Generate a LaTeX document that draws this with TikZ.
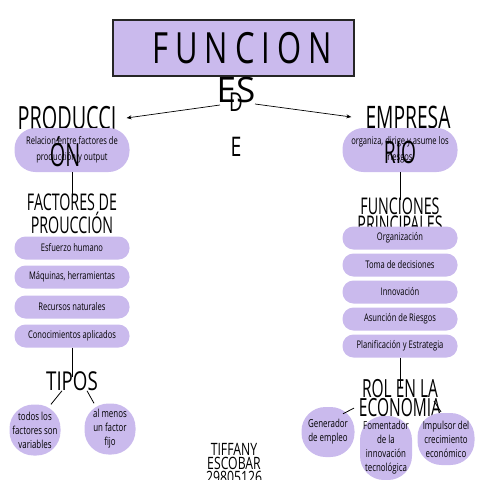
\documentclass[tikz,border=0pt]{standalone}
\usepackage{fontspec}
\setmainfont{Open Sans}[FakeStretch=0.72]
\newfontfamily\headfont{Open Sans}[FakeStretch=0.62]
\newfontfamily\widefont{Open Sans}
\usetikzlibrary{arrows.meta}
\definecolor{lila}{RGB}{202,186,237}
\tikzset{
  titlebox/.style={draw=black!85, line width=1.6pt, fill=lila, minimum width=241pt, minimum height=56pt, inner sep=0pt},
  bigpill/.style={fill=lila, rounded corners=21pt, minimum width=115pt, minimum height=44pt, align=center, inner sep=1pt, font=\fontsize{10.5}{16}\selectfont},
  pill/.style={fill=lila, rounded corners=11pt, minimum width=115pt, minimum height=23pt, inner sep=1pt, font=\fontsize{10.5}{12}\selectfont},
  bubble/.style={fill=lila, rounded corners=24pt, align=center, inner sep=1pt, font=\fontsize{11}{14}\selectfont},
  head/.style={align=center, inner sep=0pt},
  link/.style={line width=0.8pt},
  arrow/.style={-{Stealth[length=5pt, width=4pt]}, line width=0.7pt},
  every node/.style={text=black}
}

\begin{document}
\begin{tikzpicture}[x=1pt, y=-1pt]
    \useasboundingbox (0,0) rectangle (480,480);

    % titulo
    \node[titlebox] (title) at (233.5,48) {};
    \node[head, font=\fontsize{43}{43}\selectfont\addfontfeature{LetterSpace=16}] (tfun) at (242,48) {FUNCION};
    \node[head, font=\widefont\fontsize{35}{35}\selectfont] (tes) at (236,90) {ES};
    \node[head, font=\fontsize{26}{26}\selectfont] (td) at (236,102) {D};
    \node[head, font=\fontsize{27}{27}\selectfont] (te) at (236,147) {E};

    % produccion
    \node[head, font=\headfont\fontsize{32}{32}\selectfont] (prodA) at (67,118) {PRODUCCI};
    \node[bigpill] (rel) at (72,150) {Relacion entre factores de\\producción y output};
    \node[head, font=\headfont\fontsize{32}{32}\selectfont] (prodB) at (65,152) {ÓN};
    \node[head, font=\headfont\fontsize{23}{15}\selectfont] (fact) at (72,214) {FACTORES DE\\PROUCCIÓN};
    \node[pill] (esf) at (72,248) {Esfuerzo humano};
    \node[pill] (maq) at (72,277) {Máquinas, herramientas};
    \node[pill] (rec) at (72,307) {Recursos naturales};
    \node[pill] (con) at (72,336) {Conocimientos aplicados};
    \node[head, font=\fontsize{26}{26}\selectfont] (tipos) at (72,381) {TIPOS};
    \node[bubble, minimum width=51pt, minimum height=51pt] (var) at (35,430) {todos los\\factores son\\variables};
    \node[bubble, minimum width=51pt, minimum height=51pt] (fijo) at (110,429) {al menos\\un factor\\fijo};

    % empresario
    \node[head, font=\headfont\fontsize{31}{31}\selectfont] (empA) at (408,117) {EMPRESA};
    \node[bigpill] (org) at (400,150) {organiza, dirige y asume los\\riesgos};
    \node[head, font=\headfont\fontsize{31}{31}\selectfont] (empB) at (400,152) {RIO};
    \node[head, font=\headfont\fontsize{23}{15}\selectfont] (func) at (400,215) {FUNCIONES\\PRINCIPALES};
    \node[pill] (f1) at (400,238) {Organización};
    \node[pill] (f2) at (400,265) {Toma de decisiones};
    \node[pill] (f3) at (400,292) {Innovación};
    \node[pill] (f4) at (400,319) {Asunción de Riesgos};
    \node[pill] (f5) at (400,346) {Planificación y Estrategia};
    \node[head, font=\headfont\fontsize{25}{18}\selectfont] (rol) at (400,398) {ROL EN LA\\ECONOMIA};
    \node[bubble, minimum width=53pt, minimum height=50pt] (gen) at (328,432) {Generador\\de empleo};
    \node[bubble, minimum width=52pt, minimum height=64pt] (fom) at (386,448) {Fomentador\\de la\\innovación\\tecnológica};
    \node[bubble, minimum width=57pt, minimum height=52pt] (imp) at (446,439) {Impulsor del\\crecimiento\\económico};

    \node[head, font=\fontsize{17}{14}\selectfont] (autor) at (234,463) {TIFFANY\\ESCOBAR\\29805126};

    % conectores
    \draw[arrow] ([shift={(-9,3)}]td.west) -- ([xshift=10pt]prodA.east);
    \draw[arrow] ([shift={(12,2)}]td.east) -- ([xshift=-14pt]empA.west);
    \draw[link] (rel) -- ([yshift=-3pt]fact.north);
    \draw[link] (con) -- ([yshift=-6pt]tipos.north);
    \draw[link] ([xshift=-10pt]tipos.south) -- ([xshift=16pt]var.north);
    \draw[link] ([xshift=15pt]tipos.south) -- ([xshift=-16pt]fijo.north);
    \draw[link] (org) -- ([yshift=-3pt]func.north);
    \draw[link] (f5) -- ([yshift=-8pt]rol.north);
    \coordinate (rolL) at ([shift={(-46,-9)}]rol.south);
    \coordinate (rolR) at ([shift={(34,-16)}]rol.south);
    \draw[link] ([shift={(15,7)}]gen.north) -- (rolL);
    \draw[link] (rolR) -- ([shift={(-5,-1)}]imp.north);
\end{tikzpicture}
\end{document}
